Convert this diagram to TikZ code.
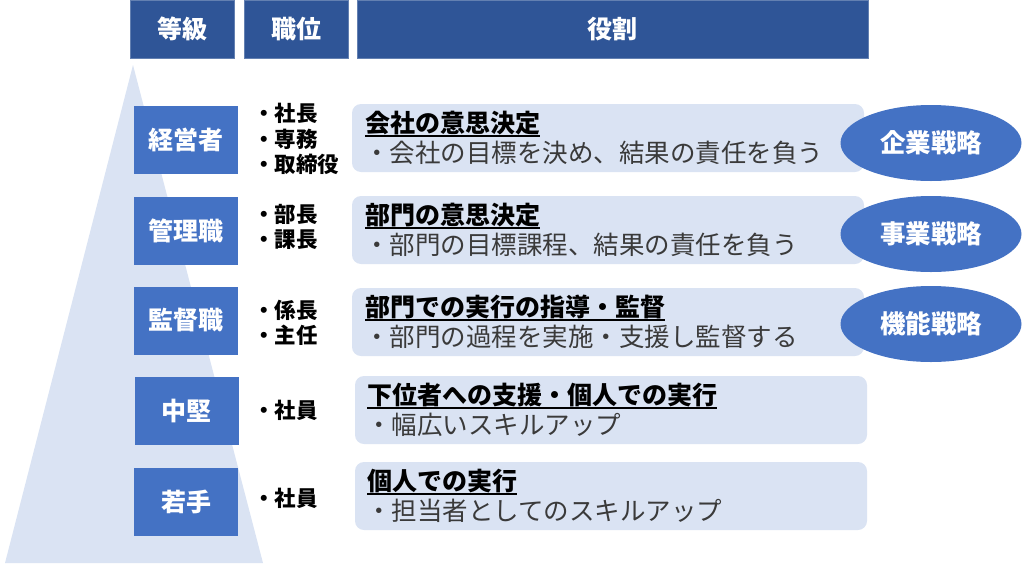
\documentclass[tikz,border=0pt]{standalone}
\usepackage{fontspec}
\setmainfont{Noto Sans CJK JP}
\usetikzlibrary{shapes.geometric}
\definecolor{hdr}{HTML}{2F5597}
\definecolor{mid}{HTML}{4472C4}
\definecolor{pale}{HTML}{DAE3F3}
\definecolor{txt}{HTML}{3A3A3A}
\newcommand\ulx[1]{\setbox0\hbox{#1}\rlap{\rule[-4pt]{\wd0}{1.6pt}}\box0}
\begin{document}
\begin{tikzpicture}[x=1pt,y=-1pt,
  hdrbox/.style={fill=hdr, draw=hdr!75!white, line width=0.8pt, text=white,
    font=\fontsize{25}{28}\selectfont\bfseries, inner sep=0, minimum height=58},
  lvbox/.style={fill=mid, text=white, font=\fontsize{25}{28}\selectfont\bfseries,
    inner sep=0, minimum width=104, minimum height=68},
  postext/.style={anchor=west, align=left, inner sep=0,
    font=\fontsize{21.5}{25.5}\selectfont\bfseries},
  rolebox/.style={fill=pale, rounded corners=9pt, inner sep=0,
    minimum width=512, minimum height=68},
  roletitle/.style={anchor=west, inner sep=0, font=\fontsize{25}{28}\selectfont\bfseries},
  roleline/.style={anchor=west, inner sep=0, text=txt, font=\fontsize{25.5}{28}\selectfont},
  strat/.style={ellipse, fill=mid, text=white, inner sep=0,
    minimum width=181, minimum height=76, font=\fontsize{25.5}{28}\selectfont\bfseries}
]
\useasboundingbox (0,0) rectangle (1024,565);
% pyramid
\fill[pale] (133,65) -- (263,563) -- (5,563) -- cycle;
% headers
\node[hdrbox, minimum width=104] (h1) at (182,29) {等級};
\node[hdrbox, minimum width=104] (h2) at (296,29) {職位};
\node[hdrbox, minimum width=511] (h3) at (612.5,29) {役割};
% levels
\node[lvbox] (l1) at (186,139.5) {経営者};
\node[lvbox] (l2) at (186,231) {管理職};
\node[lvbox] (l3) at (186,320.5) {監督職};
\node[lvbox] (l4) at (186.5,410.5) {中堅};
\node[lvbox] (l5) at (186,502) {若手};
% positions
\node[postext] (p1) at (253,139) {・社長\\・専務\\・取締役};
\node[postext] (p2) at (253,227) {・部長\\・課長};
\node[postext] (p3) at (253,323) {・係長\\・主任};
\node[postext] (p4) at (253,410) {・社員};
\node[postext] (p5) at (253,498) {・社員};
% role boxes
\node[rolebox] (r1) at (608,138) {};
\node[rolebox] (r2) at (608,230) {};
\node[rolebox] (r3) at (608,322) {};
\node[rolebox] (r4) at (611,410) {};
\node[rolebox] (r5) at (611,496) {};
\node[roletitle] (t1) at (365,124) {\ulx{会社の意思決定}};
\node[roleline] (s1) at (364,153) {・会社の目標を決め、結果の責任を負う};
\node[roletitle] (t2) at (365,216) {\ulx{部門の意思決定}};
\node[roleline] (s2) at (364,245) {・部門の目標課程、結果の責任を負う};
\node[roletitle] (t3) at (365,308) {\ulx{部門での実行の指導・監督}};
\node[roleline] (s3) at (364,337) {・部門の過程を実施・支援し監督する};
\node[roletitle] (t4) at (367,396) {\ulx{下位者への支援・個人での実行}};
\node[roleline] (s4) at (366,425) {・幅広いスキルアップ};
\node[roletitle] (t5) at (367,482) {\ulx{個人での実行}};
\node[roleline] (s5) at (366,511) {・担当者としてのスキルアップ};
% strategies
\node[strat] (e1) at (931,143) {企業戦略};
\node[strat] (e2) at (931,234) {事業戦略};
\node[strat] (e3) at (931,324) {機能戦略};
\end{tikzpicture}
\end{document}
